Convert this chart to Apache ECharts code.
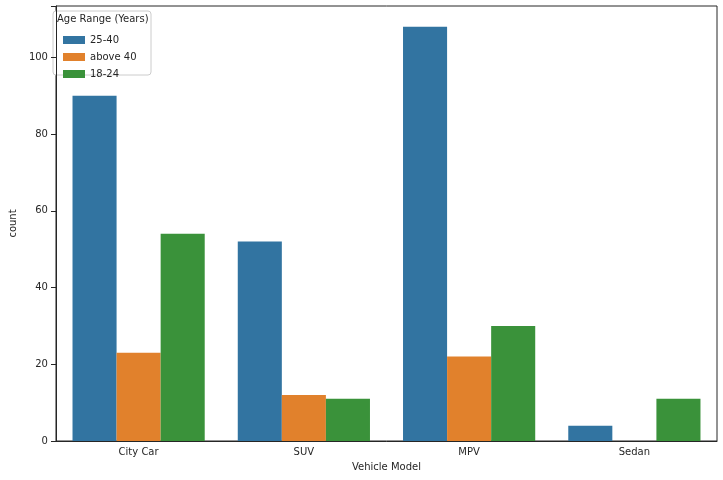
<!DOCTYPE html>
<html>
<head>
<meta charset="utf-8">
<script src="https://cdn.jsdelivr.net/npm/echarts@6/dist/echarts.min.js"></script>
<style>html,body{margin:0;padding:0;background:#fff}</style>
</head>
<body>
<div id="chart" style="width:723px;height:480px"></div>
<script>
var categories = ['City Car', 'SUV', 'MPV', 'Sedan'];
var seriesNames = ['25-40', 'above 40', '18-24'];
var age2540 = [90, 52, 108, 4];
var above40 = [23, 12, 22, '-'];
var age1824 = [54, 11, 30, 11];
var colors = ['#3274a1', '#e1812c', '#3a923a'];

var myChart = echarts.init(document.getElementById('chart'));
var font = 'DejaVu Sans';
var ink = '#262626';

var option = {
  animation: false,
  textStyle: { fontFamily: font },
  color: colors,
  grid: {
    left: 47, right: 6, top: 6, bottom: 39,
    show: true, borderColor: ink, borderWidth: 1
  },
  graphic: [{
    type: 'rect',
    shape: { x: 53, y: 11, width: 98, height: 64, r: 3 },
    style: { fill: '#fff', stroke: '#ccc', lineWidth: 1 }
  }, {
    type: 'text', left: 57, top: 14,
    style: { text: 'Age Range (Years)', fontSize: 10, fontFamily: font, fill: ink }
  }],
  legend: {
    data: seriesNames,
    orient: 'vertical',
    left: 58, top: 30,
    itemWidth: 22, itemHeight: 8, itemGap: 7,
    icon: 'rect',
    textStyle: { fontSize: 10, color: ink, fontFamily: font }
  },
  xAxis: {
    type: 'category',
    data: categories,
    name: 'Vehicle Model',
    nameLocation: 'middle',
    nameGap: 21,
    nameTextStyle: { fontSize: 10, color: ink },
    axisLine: { lineStyle: { color: ink } },
    axisTick: { alignWithLabel: true, lineStyle: { color: ink } },
    axisLabel: { fontSize: 10, color: ink, margin: 6 }
  },
  yAxis: {
    type: 'value',
    min: 0, max: 113.4, interval: 20,
    name: 'count',
    nameLocation: 'middle',
    nameGap: 33,
    nameTextStyle: { fontSize: 10, color: ink },
    axisLine: { show: true, lineStyle: { color: ink } },
    axisTick: { show: true, lineStyle: { color: ink } },
    splitLine: { show: false },
    axisLabel: {
      fontSize: 10, color: ink,
      formatter: function (v) { return v % 20 === 0 ? v : ''; }
    }
  },
  series: [
    { name: seriesNames[0], type: 'bar', data: age2540, barGap: '0%', barCategoryGap: '20%' },
    { name: seriesNames[1], type: 'bar', data: above40 },
    { name: seriesNames[2], type: 'bar', data: age1824 }
  ]
};
myChart.setOption(option);
window.addEventListener('resize', myChart.resize);
</script>
</body>
</html>
